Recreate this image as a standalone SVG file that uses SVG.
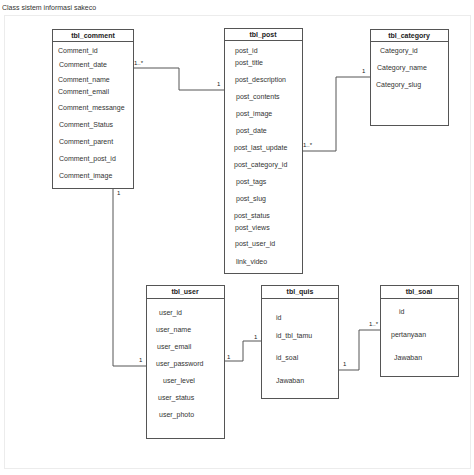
<svg xmlns="http://www.w3.org/2000/svg" width="474" height="475" viewBox="0 0 474 475">
<style>
text{font-family:"Liberation Sans",Arial,sans-serif;font-size:7px;fill:#333}
.h{font-weight:bold;text-anchor:middle;fill:#222}
.box{fill:#fff;stroke:#555;stroke-width:1}
.sep{stroke:#555;stroke-width:1}
.c{fill:none;stroke:#555;stroke-width:1}
.lb{font-size:6px;fill:#222}
</style>
<rect x="0" y="0" width="474" height="475" fill="#fff"/>
<rect x="4.5" y="15.5" width="466" height="453" fill="none" stroke="#ececec" stroke-width="1"/>
<text x="2" y="10">Class sistem informasi sakeco</text>

<g id="connectors">
<polyline class="c" points="133,68 179,68 179,90 224,90"/>
<polyline class="c" points="302,151 336,151 336,77 370,77"/>
<polyline class="c" points="113,188 113,366 146,366"/>
<polyline class="c" points="224,361 243,361 243,341 261,341"/>
<polyline class="c" points="338,370 359,370 359,330 380,330"/>
<text class="lb" x="134" y="65">1..*</text>
<text class="lb" x="217" y="86">1</text>
<text class="lb" x="303" y="147">1..*</text>
<text class="lb" x="362" y="73">1</text>
<text class="lb" x="117" y="195">1</text>
<text class="lb" x="139" y="362">1</text>
<text class="lb" x="227" y="359">1</text>
<text class="lb" x="254" y="339">1</text>
<text class="lb" x="343" y="366">1</text>
<text class="lb" x="369" y="326">1..*</text>
</g>

<g id="tbl_comment">
<rect class="box" x="52.5" y="29.5" width="81" height="159"/>
<line class="sep" x1="52.5" y1="41.5" x2="133.5" y2="41.5"/>
<text class="h" x="93" y="38">tbl_comment</text>
<text x="58" y="53">Comment_id</text>
<text x="59" y="67">Comment_date</text>
<text x="58" y="82">Comment_name</text>
<text x="58" y="94">Comment_email</text>
<text x="58" y="110">Comment_messange</text>
<text x="59" y="127">Comment_Status</text>
<text x="59" y="144">Comment_parent</text>
<text x="59" y="161">Comment_post_id</text>
<text x="59" y="178">Comment_image</text>
</g>

<g id="tbl_post">
<rect class="box" x="224.5" y="28.5" width="78" height="245"/>
<line class="sep" x1="224.5" y1="40.5" x2="302.5" y2="40.5"/>
<text class="h" x="263" y="37">tbl_post</text>
<text x="235" y="53">post_id</text>
<text x="235" y="65">post_title</text>
<text x="235" y="82">post_description</text>
<text x="236" y="99">post_contents</text>
<text x="236" y="116">post_image</text>
<text x="236" y="133">post_date</text>
<text x="234" y="150">post_last_update</text>
<text x="234" y="167">post_category_id</text>
<text x="236" y="184">post_tags</text>
<text x="236" y="201">post_slug</text>
<text x="234" y="218">post_status</text>
<text x="235" y="230">post_views</text>
<text x="235" y="246">post_user_id</text>
<text x="236" y="264">link_video</text>
</g>

<g id="tbl_category">
<rect class="box" x="370.5" y="29.5" width="78" height="96"/>
<line class="sep" x1="370.5" y1="41.5" x2="448.5" y2="41.5"/>
<text class="h" x="409" y="38">tbl_category</text>
<text x="380" y="53">Category_id</text>
<text x="377" y="70">Category_name</text>
<text x="376" y="87">Category_slug</text>
</g>

<g id="tbl_user">
<rect class="box" x="146.5" y="285.5" width="78" height="153"/>
<line class="sep" x1="146.5" y1="298.5" x2="224.5" y2="298.5"/>
<text class="h" x="185" y="294">tbl_user</text>
<text x="159" y="315">user_id</text>
<text x="156" y="332">user_name</text>
<text x="157" y="349">user_email</text>
<text x="156" y="366">user_password</text>
<text x="163" y="383">user_level</text>
<text x="158" y="400">user_status</text>
<text x="159" y="417">user_photo</text>
</g>

<g id="tbl_quis">
<rect class="box" x="261.5" y="285.5" width="77" height="113"/>
<line class="sep" x1="261.5" y1="298.5" x2="338.5" y2="298.5"/>
<text class="h" x="300" y="294">tbl_quis</text>
<text x="276" y="320">id</text>
<text x="276" y="338">id_tbl_tamu</text>
<text x="276" y="360">id_soal</text>
<text x="276" y="383">Jawaban</text>
</g>

<g id="tbl_soal">
<rect class="box" x="380.5" y="285.5" width="78" height="91"/>
<line class="sep" x1="380.5" y1="298.5" x2="458.5" y2="298.5"/>
<text class="h" x="419" y="294">tbl_soal</text>
<text x="399" y="314">id</text>
<text x="391" y="337">pertanyaan</text>
<text x="394" y="360">Jawaban</text>
</g>
</svg>
